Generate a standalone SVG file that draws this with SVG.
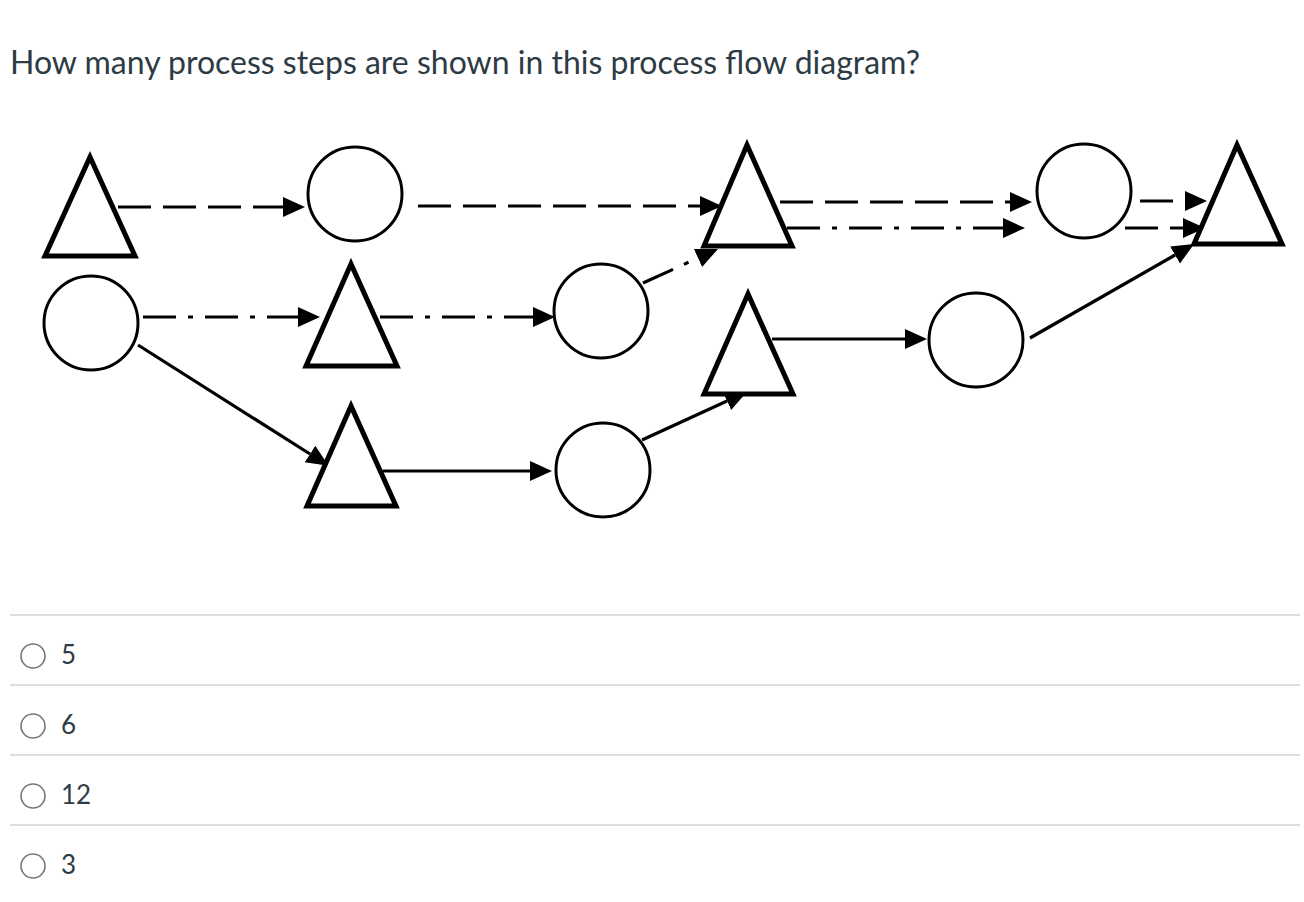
<svg xmlns="http://www.w3.org/2000/svg" width="1304" height="902" viewBox="0 0 1304 902">
<style>
.tri{fill:#fff;stroke:#000;stroke-width:5;stroke-linejoin:miter}
.cir{fill:#fff;stroke:#000;stroke-width:3}
.c{fill:none;stroke:#000;stroke-width:3.2}
.dash{stroke-dasharray:33 12}
.dd{stroke-dasharray:33 12 5 12}
.q{font-family:Lato,"Noto Sans",sans-serif;fill:#2d3b45}
.sep{stroke:#dedede;stroke-width:2}
.rb{fill:#fff;stroke:#767676;stroke-width:1.6}
</style>
<defs>
<marker id="ah" markerUnits="userSpaceOnUse" markerWidth="22" markerHeight="22" viewBox="0 -10 20 20" refX="0" refY="0" orient="auto">
<path d="M0,-9 L20,0 L0,9 Z" fill="#000"/>
</marker>
</defs>
<rect width="1304" height="902" fill="#fff"/>
<text class="q" x="10" y="74" font-size="32" textLength="910" lengthAdjust="spacingAndGlyphs">How many process steps are shown in this process flow diagram?</text>
<g id="connectors">
<line class="c dash" x1="118" y1="207" x2="283" y2="207" marker-end="url(#ah)"/>
<line class="c dd" x1="143" y1="317" x2="298" y2="317" marker-end="url(#ah)"/>
<line class="c" x1="138" y1="345" x2="310" y2="454" marker-end="url(#ah)"/>
<line class="c dash" x1="418" y1="206" x2="700" y2="206" marker-end="url(#ah)"/>
<line class="c dd" x1="380" y1="317" x2="533" y2="317" marker-end="url(#ah)"/>
<line class="c" x1="383" y1="471" x2="530" y2="471" marker-end="url(#ah)"/>
<line class="c dd" x1="643" y1="283" x2="698" y2="258" marker-end="url(#ah)"/>
<line class="c" x1="642" y1="440" x2="727" y2="401" marker-end="url(#ah)"/>
<line class="c dash" x1="780" y1="202" x2="1010" y2="202" marker-end="url(#ah)"/>
<line class="c dd" x1="787" y1="228" x2="1003" y2="228" marker-end="url(#ah)"/>
<line class="c" x1="772" y1="339" x2="905" y2="339" marker-end="url(#ah)"/>
<line class="c dash" x1="1140" y1="201" x2="1185" y2="201" marker-end="url(#ah)"/>
<line class="c dash" x1="1125" y1="228" x2="1183" y2="228" marker-end="url(#ah)"/>
<line class="c" x1="1030" y1="338" x2="1175" y2="255" marker-end="url(#ah)"/>
</g>
<g id="t1"><polygon class="tri" points="90,157 45,256 135,256"/></g>
<g id="c1"><circle class="cir" cx="355" cy="194" r="47"/></g>
<g id="c2"><circle class="cir" cx="91" cy="323" r="47"/></g>
<g id="t2"><polygon class="tri" points="351,264 306,366 397,366"/></g>
<g id="t3"><polygon class="tri" points="351,406 307,506 396,506"/></g>
<g id="c3"><circle class="cir" cx="601" cy="311" r="47"/></g>
<g id="c4"><circle class="cir" cx="603" cy="470" r="47"/></g>
<g id="t4"><polygon class="tri" points="747,145 704,246 792,246"/></g>
<g id="t6"><polygon class="tri" points="748,294 704,394 793,394"/></g>
<g id="c5"><circle class="cir" cx="1084" cy="191" r="47"/></g>
<g id="c6"><circle class="cir" cx="976" cy="340" r="47"/></g>
<g id="t5"><polygon class="tri" points="1237,145 1194,244 1282,244"/></g>
<g id="answers">
<line class="sep" x1="10" y1="615" x2="1300" y2="615"/>
<line class="sep" x1="10" y1="685" x2="1300" y2="685"/>
<line class="sep" x1="10" y1="755" x2="1300" y2="755"/>
<line class="sep" x1="10" y1="825" x2="1300" y2="825"/>
<circle class="rb" cx="33" cy="656" r="12"/>
<circle class="rb" cx="33" cy="726" r="12"/>
<circle class="rb" cx="33" cy="796" r="12"/>
<circle class="rb" cx="33" cy="866" r="12"/>
<text class="q" x="61" y="664" font-size="26">5</text>
<text class="q" x="61" y="734" font-size="26">6</text>
<text class="q" x="61" y="804" font-size="26">12</text>
<text class="q" x="61" y="874" font-size="26">3</text>
</g>
</svg>
